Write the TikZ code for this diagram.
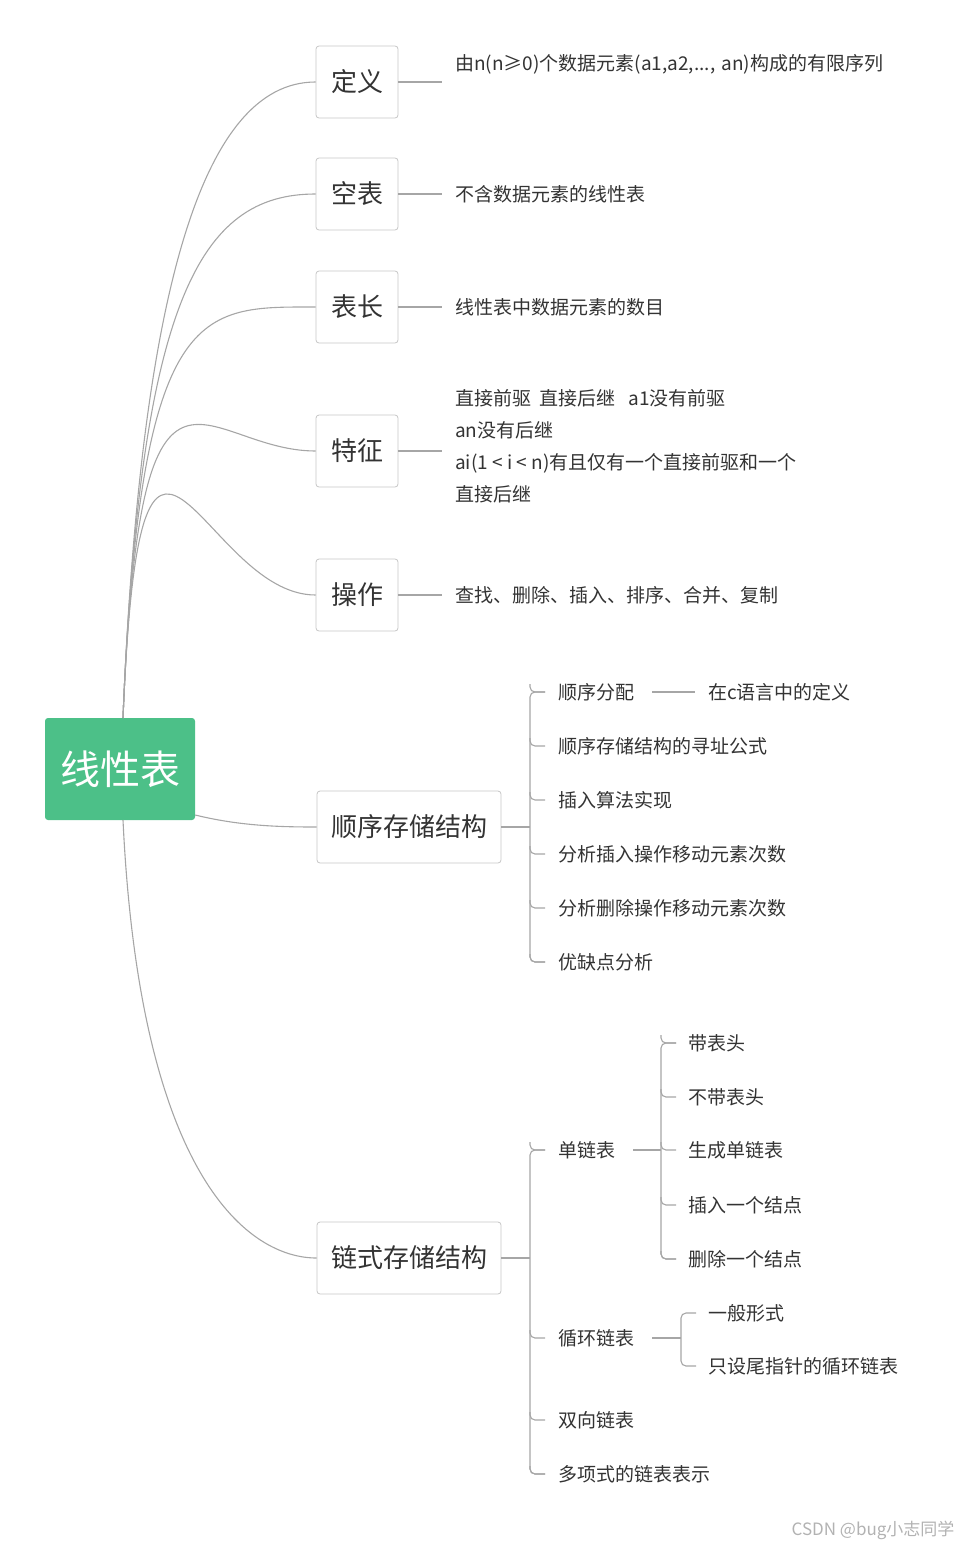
\documentclass[tikz,border=0pt]{standalone}
\usepackage{fontspec}
\setmainfont{Noto Sans CJK SC}
\begin{document}
\begin{tikzpicture}[x=1pt,y=-1pt,
  ln/.style={draw=gray!70,line width=1.1pt},
  box/.style={draw=gray!45,rounded corners=3pt,line width=0.8pt,minimum height=72pt,font=\fontsize{26}{30}\selectfont,text=black!80,inner xsep=14pt},
  leaf/.style={anchor=west,font=\fontsize{19}{32}\selectfont,text=black!80,inner sep=0pt,align=left}]
\useasboundingbox (0,0) rectangle (972,1550);
\node[fill={rgb,255:red,76;green,192;blue,136},rounded corners=3pt,minimum width=150pt,minimum height=102pt,text=white,font=\fontsize{40}{44}\selectfont] (root) at (120,769) {线性表};
\foreach \n/\t/\y in {a/定义/82,b/空表/194,c/表长/307,d/特征/451,e/操作/595}{
  \node[box,minimum width=82pt] (\n) at (357,\y) {\t};
  \draw[ln] (123,718) .. controls (140,300) and (200,\y) .. (\n.west);
  \coordinate (\n1) at (442,\y);
  \draw[ln] (\n.east) -- (\n1);
}
\node[leaf,anchor=north west,text width=430pt] (ta) at (455,54) {由n(n≥0)个数据元素(a1,a2,..., an)构成的有限序列};
\node[leaf] (tb) at (455,194) {不含数据元素的线性表};
\node[leaf] (tc) at (455,307) {线性表中数据元素的数目};
\node[leaf,anchor=north west] (td) at (455,389) {直接前驱\ \ 直接后继\ \ \ a1没有前驱\\an没有后继\\ai(1 < i < n)有且仅有一个直接前驱和一个\\直接后继};
\node[leaf] (te) at (455,595) {查找、删除、插入、排序、合并、复制};
\node[box] (f) at (409,827) {顺序存储结构};
\draw[ln] (root.east|-0,815) .. controls (240,826) and (280,827) .. (f.west);
\node[box] (g) at (409,1258) {链式存储结构};
\draw[ln] (123,820) .. controls (140,1180) and (250,1258) .. (g.west);
% sequential children
\draw[ln] (f.east) -- (530,827);
\draw[ln,rounded corners=5pt] (545,692) -- (530,692) -- (530,962) -- (545,962);
\foreach \y/\t/\n in {692/顺序分配/f1,746/顺序存储结构的寻址公式/f2,800/插入算法实现/f3,854/分析插入操作移动元素次数/f4,908/分析删除操作移动元素次数/f5,962/优缺点分析/f6}{
  \node[leaf] (\n) at (558,\y) {\t};
  \draw[ln,rounded corners=5pt] (530,\y-8) -- (530,\y) -- (545,\y);
}
\node[leaf] (f11) at (708,692) {在c语言中的定义};
\draw[ln] (652,692) -- (695,692);
% linked children
\draw[ln] (g.east) -- (530,1258);
\draw[ln,rounded corners=5pt] (545,1150) -- (530,1150) -- (530,1474) -- (545,1474);
\foreach \y/\t/\n in {1150/单链表/g1,1338/循环链表/g2,1420/双向链表/g3,1474/多项式的链表表示/g4}{
  \node[leaf] (\n) at (558,\y) {\t};
  \draw[ln,rounded corners=5pt] (530,\y-8) -- (530,\y) -- (545,\y);
}
\draw[ln] (633,1150) -- (661,1150);
\draw[ln,rounded corners=5pt] (676,1043) -- (661,1043) -- (661,1259) -- (676,1259);
\foreach \y/\t/\n in {1043/带表头/h1,1097/不带表头/h2,1150/生成单链表/h3,1205/插入一个结点/h4,1259/删除一个结点/h5}{
  \node[leaf] (\n) at (688,\y) {\t};
  \draw[ln,rounded corners=5pt] (661,\y-8) -- (661,\y) -- (676,\y);
}
\draw[ln] (652,1338) -- (681,1338);
\draw[ln,rounded corners=5pt] (696,1313) -- (681,1313) -- (681,1366) -- (696,1366);
\node[leaf] (k1) at (708,1313) {一般形式};
\node[leaf] (k2) at (708,1366) {只设尾指针的循环链表};
\node[anchor=east,font=\fontsize{17}{20}\selectfont,text=gray!60] (wm) at (958,1530) {CSDN @bug小志同学};
\end{tikzpicture}
\end{document}
